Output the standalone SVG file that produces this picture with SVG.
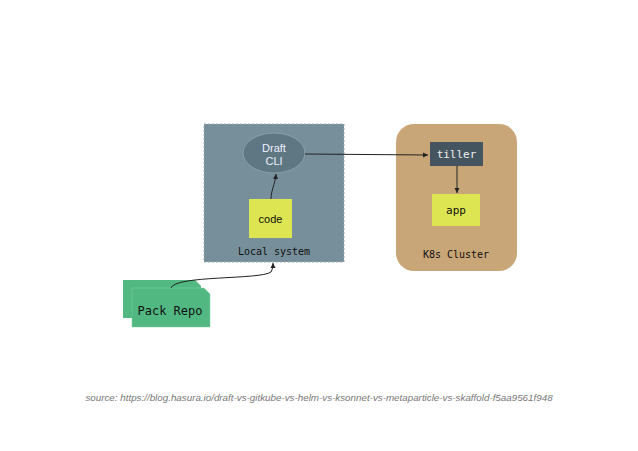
<svg xmlns="http://www.w3.org/2000/svg" width="638" height="451" viewBox="0 0 638 451">
<style>
.mono{font-family:"DejaVu Sans Mono","Liberation Mono",monospace}
.sans{font-family:"Liberation Sans",Arial,sans-serif}
.c{fill:none;stroke:#222;stroke-width:1}
</style>
<defs><marker id="a" markerWidth="6" markerHeight="6" refX="5" refY="3" orient="auto"><path d="M0,0.5 L5,3 L0,5.5z" fill="#222"/></marker></defs>
<rect width="638" height="451" fill="#fff"/>
<g id="local"><rect x="204" y="124" width="140" height="138" fill="#778f9b" stroke="#9aabb4" stroke-dasharray="2,2"/>
<text x="274" y="255" text-anchor="middle" font-size="10" class="mono" fill="#111">Local system</text></g>
<g id="k8s"><rect x="396" y="124" width="121" height="147" rx="18" fill="#c9a677"/>
<text x="456" y="258" text-anchor="middle" font-size="10" class="mono" fill="#111">K8s Cluster</text></g>
<g id="draft"><ellipse cx="274" cy="153" rx="31" ry="20" fill="#5e7783" stroke="#8aa0aa"/>
<text x="274" y="152" text-anchor="middle" font-size="11" class="sans" fill="#eef">Draft</text>
<text x="274" y="165" text-anchor="middle" font-size="11" class="sans" fill="#eef">CLI</text></g>
<g id="code"><rect x="249" y="199" width="43" height="39" fill="#dde553"/>
<text x="270.5" y="223" text-anchor="middle" font-size="11" class="sans" fill="#111">code</text></g>
<g id="tiller"><rect x="430" y="142" width="53" height="24" fill="#44555f"/>
<text x="456.5" y="158" text-anchor="middle" font-size="11" class="mono" fill="#eee">tiller</text></g>
<g id="app"><rect x="432" y="194" width="48" height="32" fill="#dde553"/>
<text x="456" y="214" text-anchor="middle" font-size="11" class="mono" fill="#111">app</text></g>
<g id="pack"><path d="M123,280 H195 L201,286 V318 H123z" fill="#52b882"/>
<path d="M132,288 H204 L210,294 V327 H132z" fill="#52b882" stroke="#7fd0a5" stroke-width="0.5"/>
<text x="170" y="315" text-anchor="middle" font-size="12" class="mono" fill="#111">Pack Repo</text></g>
<g id="connectors">
<path class="c" d="M305,154 L428,155" marker-end="url(#a)"/>
<path class="c" d="M271,199 C271,190 275,185 276,174" marker-end="url(#a)"/>
<path class="c" d="M457,166 L457,193" marker-end="url(#a)"/>
<path class="c" d="M171,288 C175,275 260,280 271,272 C273,268 273,266 273,263" marker-end="url(#a)"/>
</g>
<text x="319" y="401" text-anchor="middle" font-size="9.8" font-style="italic" class="sans" fill="#777">source: https://blog.hasura.io/draft-vs-gitkube-vs-helm-vs-ksonnet-vs-metaparticle-vs-skaffold-f5aa9561f948</text>
</svg>
